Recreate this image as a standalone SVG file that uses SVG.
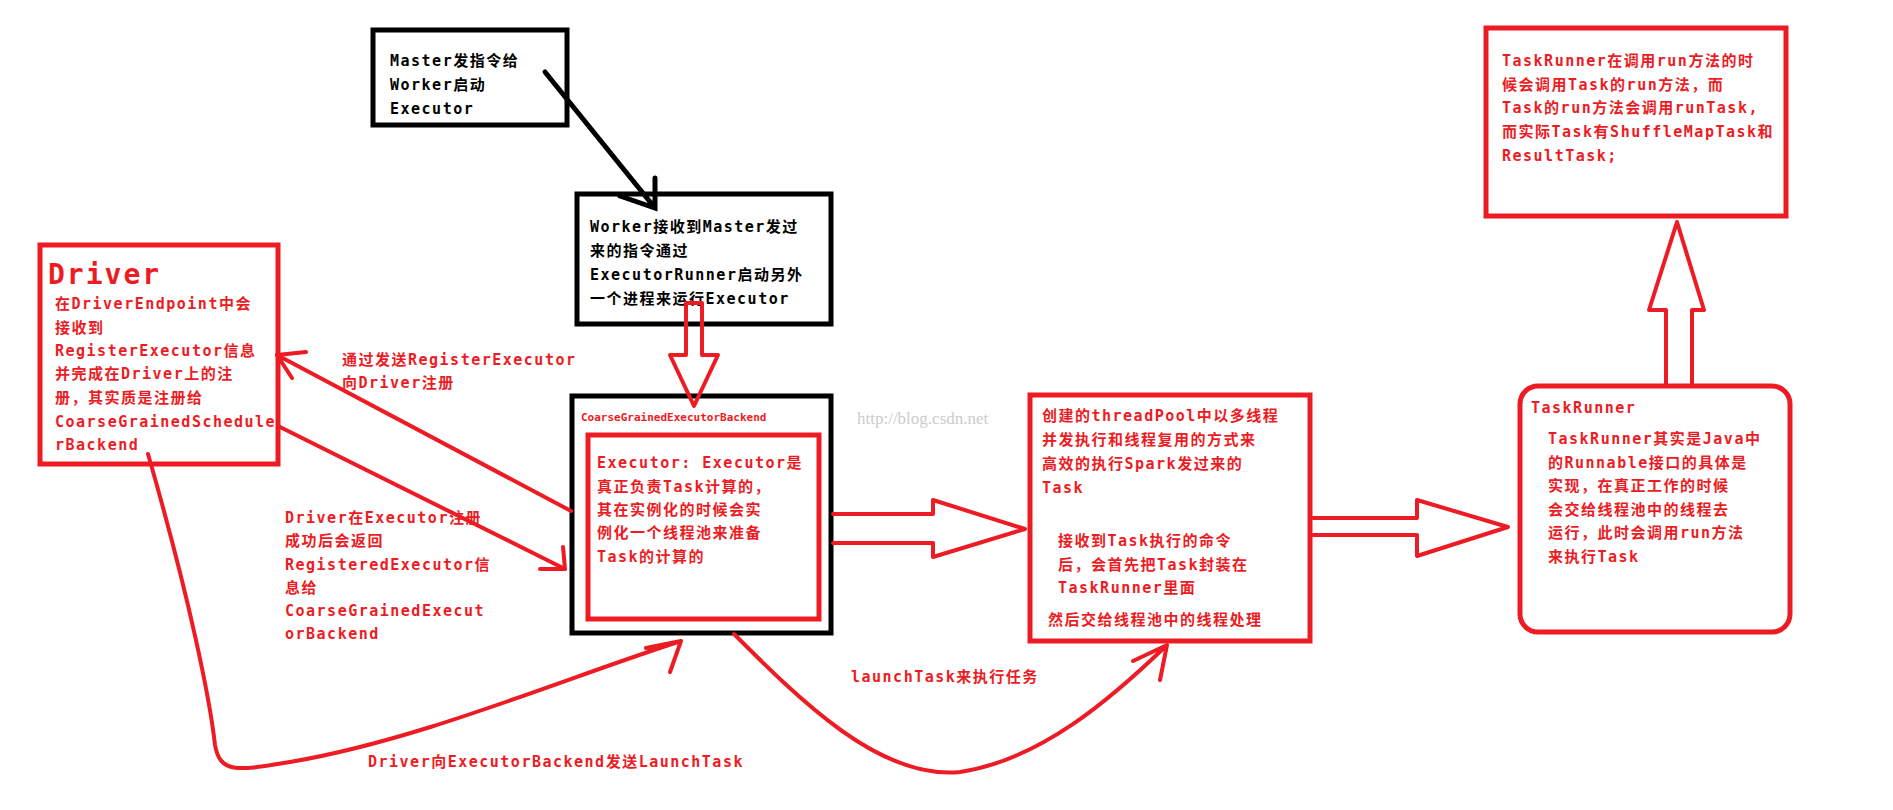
<svg xmlns="http://www.w3.org/2000/svg" width="1893" height="810" viewBox="0 0 1893 810">
<style>
.t{font-family:"DejaVu Sans Mono","Noto Sans CJK SC",monospace;font-weight:bold;font-size:15px;letter-spacing:1.5px}
.r{fill:#ed1c24}.k{fill:#000}
.rb{fill:#fff;stroke:#ed1c24;stroke-width:5}
.kb{fill:#fff;stroke:#000;stroke-width:5}
.rl{fill:none;stroke:#ed1c24;stroke-width:4;stroke-linecap:round;stroke-linejoin:round}
</style>
<rect width="1893" height="810" fill="#fff"/>
<g id="master"><rect class="kb" x="373" y="30" width="194" height="95"/>
<text class="t k" x="390"><tspan x="390" y="66">Master发指令给</tspan><tspan x="390" y="90">Worker启动</tspan><tspan x="390" y="114">Executor</tspan></text></g>
<g id="worker"><rect class="kb" x="577" y="194" width="254" height="130"/>
<text class="t k"><tspan x="590" y="232">Worker接收到Master发过</tspan><tspan x="590" y="256">来的指令通过</tspan><tspan x="590" y="280">ExecutorRunner启动另外</tspan><tspan x="590" y="304">一个进程来运行Executor</tspan></text></g>
<g id="driver"><rect class="rb" x="40" y="245" width="238" height="219"/>
<text class="r" x="48" y="284" style="font-family:'DejaVu Sans Mono',monospace;font-weight:bold;font-size:28px;letter-spacing:2px">Driver</text>
<text class="t r"><tspan x="55" y="309">在DriverEndpoint中会</tspan><tspan x="55" y="333">接收到</tspan><tspan x="55" y="356">RegisterExecutor信息</tspan><tspan x="55" y="379">并完成在Driver上的注</tspan><tspan x="55" y="403">册，其实质是注册给</tspan><tspan x="55" y="427">CoarseGrainedSchedule</tspan><tspan x="55" y="450">rBackend</tspan></text></g>
<g id="cgeb"><rect class="kb" x="572" y="396" width="259" height="237"/>
<text class="r" x="581" y="421" style="font-family:'DejaVu Sans Mono',monospace;font-weight:bold;font-size:11px">CoarseGrainedExecutorBackend</text>
<rect class="rb" x="588" y="435" width="231" height="184"/>
<text class="t r"><tspan x="597" y="468">Executor: Executor是</tspan><tspan x="597" y="492">真正负责Task计算的，</tspan><tspan x="597" y="515">其在实例化的时候会实</tspan><tspan x="597" y="538">例化一个线程池来准备</tspan><tspan x="597" y="562">Task的计算的</tspan></text></g>
<text x="857" y="424" fill="#ccc" style="font-family:'Liberation Serif',serif;font-size:17px">http://blog.csdn.net</text>
<g id="threadpool"><rect class="rb" x="1030" y="395" width="280" height="246"/>
<text class="t r"><tspan x="1042" y="421">创建的threadPool中以多线程</tspan><tspan x="1042" y="445">并发执行和线程复用的方式来</tspan><tspan x="1042" y="469">高效的执行Spark发过来的</tspan><tspan x="1042" y="493">Task</tspan><tspan x="1058" y="546">接收到Task执行的命令</tspan><tspan x="1058" y="570">后，会首先把Task封装在</tspan><tspan x="1058" y="593">TaskRunner里面</tspan><tspan x="1048" y="625">然后交给线程池中的线程处理</tspan></text></g>
<g id="taskrunner"><rect class="rb" x="1520" y="386" width="270" height="246" rx="18"/>
<text class="t r"><tspan x="1531" y="413">TaskRunner</tspan><tspan x="1548" y="444">TaskRunner其实是Java中</tspan><tspan x="1548" y="468">的Runnable接口的具体是</tspan><tspan x="1548" y="491">实现，在真正工作的时候</tspan><tspan x="1548" y="515">会交给线程池中的线程去</tspan><tspan x="1548" y="538">运行，此时会调用run方法</tspan><tspan x="1548" y="562">来执行Task</tspan></text></g>
<g id="taskrun"><rect class="rb" x="1486" y="28" width="300" height="188"/>
<text class="t r"><tspan x="1502" y="66">TaskRunner在调用run方法的时</tspan><tspan x="1502" y="90">候会调用Task的run方法，而</tspan><tspan x="1502" y="113">Task的run方法会调用runTask,</tspan><tspan x="1502" y="137">而实际Task有ShuffleMapTask和</tspan><tspan x="1502" y="161">ResultTask;</tspan></text></g>
<g id="connectors">
<path d="M545,72 L655,208 M620,196 L655,208 L655,178" fill="none" stroke="#000" stroke-width="5" stroke-linecap="round"/>
<path class="rl" d="M686,303 L686,355 L670,355 L694,406 L718,355 L702,355 L702,303 Z"/>
<path class="rl" d="M833,514 L933,514 L933,500 L1025,529 L933,557 L933,543 L833,543"/>
<path class="rl" d="M1313,518 L1417,518 L1417,500 L1508,527 L1417,556 L1417,535 L1313,535"/>
<path class="rl" d="M1666,386 L1666,310 L1649,310 L1677,222 L1704,310 L1692,310 L1692,386"/>
<path class="rl" d="M571,511 L277,355 M277,355 L306,352 M277,355 L292,378"/>
<path class="rl" d="M278,426 L565,569 M565,569 L540,569 M565,569 L563,547"/>
<path class="rl" d="M148,454 C190,600 210,700 215,745 C220,775 240,770 290,762 C420,740 560,680 681,641 M681,641 L646,648 M681,641 L670,672"/>
<path class="rl" d="M734,634 C800,700 880,780 960,772 C1040,760 1110,700 1167,645 M1167,645 L1133,661 M1167,645 L1160,680"/>
</g>
<text class="t r"><tspan x="342" y="365">通过发送RegisterExecutor</tspan><tspan x="342" y="388">向Driver注册</tspan></text>
<text class="t r"><tspan x="285" y="523">Driver在Executor注册</tspan><tspan x="285" y="546">成功后会返回</tspan><tspan x="285" y="570">RegisteredExecutor信</tspan><tspan x="285" y="593">息给</tspan><tspan x="285" y="616">CoarseGrainedExecut</tspan><tspan x="285" y="639">orBackend</tspan></text>
<text class="t r" x="851" y="682">launchTask来执行任务</text>
<text class="t r" x="368" y="767">Driver向ExecutorBackend发送LaunchTask</text>
</svg>
